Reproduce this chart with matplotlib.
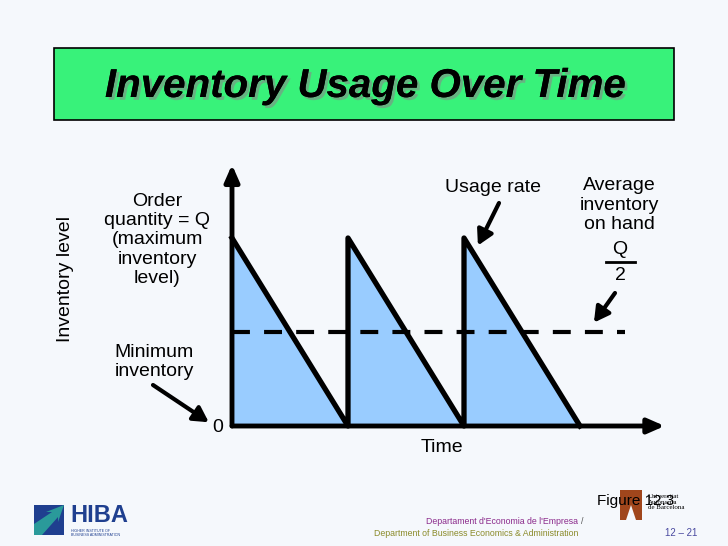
import matplotlib
matplotlib.use("Agg")
import matplotlib.pyplot as plt
import matplotlib.patheffects as pe
from matplotlib.patches import Rectangle, Polygon

plt.rcParams['font.family'] = ['Liberation Sans', 'DejaVu Sans']

# sawtooth inventory data (time in cycles, level in units of Q)
times = [0, 1, 1, 2, 2, 3]
levels = [1, 0, 1, 0, 1, 0]
avg_level = 0.5          # Q/2
avg_end = 3.39
x_axis_end = 3.73
y_axis_end = 1.39

W, H = 728, 546
bg = '#F5F8FC'
fig = plt.figure(figsize=(W / 100, H / 100), dpi=100, facecolor=bg)

# pixel overlay for the slide decorations
deco = fig.add_axes([0, 0, 1, 1])
deco.set_xlim(0, W)
deco.set_ylim(H, 0)
deco.axis('off')
deco.set_facecolor(bg)

# title box
deco.add_patch(Rectangle((54, 48), 620, 72, facecolor='#38F27A', edgecolor='black', lw=1.2))
deco.text(365, 86, "Inventory Usage Over Time", fontsize=29, fontweight='bold',
          fontstyle='italic', color='black', ha='center', va='center',
          path_effects=[pe.withSimplePatchShadow(offset=(2, -2), shadow_rgbFace='#888888', alpha=0.6),
                        pe.Normal()])

# chart axes: t=0 at x=232px, level 0 at y=426px
px_t, px_q = 116, 188
ax = fig.add_axes([232 / W, (H - 426) / H, 3.8 * px_t / W, 1.45 * px_q / H])
ax.set_xlim(0, 3.8)
ax.set_ylim(0, 1.45)
ax.axis('off')

ax.fill_between(times, levels, color='#99CCFF', lw=0)
ax.plot(times, levels, color='black', lw=3.8, solid_joinstyle='round', clip_on=False)
ax.plot([0, avg_end], [avg_level, avg_level], color='black', lw=3,
        linestyle=(0, (4.3, 3.4)), clip_on=False)

axis_arrow = dict(arrowstyle='-|>,head_length=0.5,head_width=0.22', lw=3.5,
                  color='black', shrinkA=0, shrinkB=0, mutation_scale=20)
ax.annotate('', xy=(x_axis_end, 0), xytext=(0, 0), arrowprops=axis_arrow, annotation_clip=False)
ax.annotate('', xy=(0, y_axis_end), xytext=(0, 0), arrowprops=axis_arrow, annotation_clip=False)

fs = 14
txt = dict(fontsize=fs, ha='center', va='center', color='black')
deco.text(66, 279, "Inventory level", rotation=90, **txt)
deco.text(157, 240, "Order\nquantity = Q\n(maximum\ninventory\nlevel)", linespacing=1.17, **txt)
deco.text(154, 362, "Minimum\ninventory", linespacing=1.17, **txt)
deco.text(218, 427, "0", **txt)
deco.text(442, 447, "Time", **txt)
deco.text(493, 188, "Usage rate", **txt)
deco.text(619, 205, "Average\ninventory\non hand", linespacing=1.17, **txt)
deco.text(620, 250, "Q", **txt)
deco.plot([606, 635], [262, 262], color='black', lw=2)
deco.text(620, 275, "2", **txt)

pointer = dict(arrowstyle='-|>,head_length=0.45,head_width=0.25', lw=3,
               color='black', shrinkA=0, shrinkB=0, mutation_scale=20)
ax.annotate('', xy=(-0.2, 0.02), xytext=(153, 385), textcoords=deco.transData,
            arrowprops=pointer, annotation_clip=False)
ax.annotate('', xy=(2.12, 0.96), xytext=(499, 203), textcoords=deco.transData,
            arrowprops=pointer, annotation_clip=False)
ax.annotate('', xy=(3.12, 0.55), xytext=(615, 293), textcoords=deco.transData,
            arrowprops=pointer, annotation_clip=False)

# footer: HIBA logo
deco.add_patch(Rectangle((34, 505), 30, 30, facecolor='#1F3F8F', lw=0))
deco.add_patch(Polygon([(34, 535), (34, 524), (52, 512), (46, 512), (64, 505), (58, 522),
                        (58, 517), (42, 535)], closed=True, facecolor='#2A9A9A', lw=0))
deco.text(70, 516, "HIBA", fontsize=17, fontweight='bold', color='#1F3F8F', ha='left', va='center')
deco.text(71, 533, "HIGHER INSTITUTE OF\nBUSINESS ADMINISTRATION", fontsize=2.6,
          color='#1F3F8F', ha='left', va='center', linespacing=1.0)

# footer: UAB logo + figure label
deco.add_patch(Polygon([(620, 490), (642, 490), (642, 520), (636, 520), (631, 505),
                        (626, 520), (620, 520)], closed=True, facecolor='#A0461C', lw=0))
deco.text(648, 502, "Universitat\nAutònoma\nde Barcelona", fontsize=5, family='Liberation Serif',
          color='black', ha='left', va='center', linespacing=1.2)
deco.text(597, 501, "Figure 12.3", fontsize=11, color='black', ha='left', va='center')

deco.text(578, 522, "Departament d'Economia de l'Empresa", fontsize=6.3, color='#8B2A8B',
          ha='right', va='center')
deco.text(581, 522, "/", fontsize=6.3, color='#555555', ha='left', va='center')
deco.text(578, 533, "Department of Business Economics & Administration", fontsize=6.3,
          color='#8B8B2A', ha='right', va='center')
deco.text(681, 533, "12 – 21", fontsize=7, color='#4A4AA0', ha='center', va='center')

fig.savefig('out.png', dpi=100, facecolor=bg)
